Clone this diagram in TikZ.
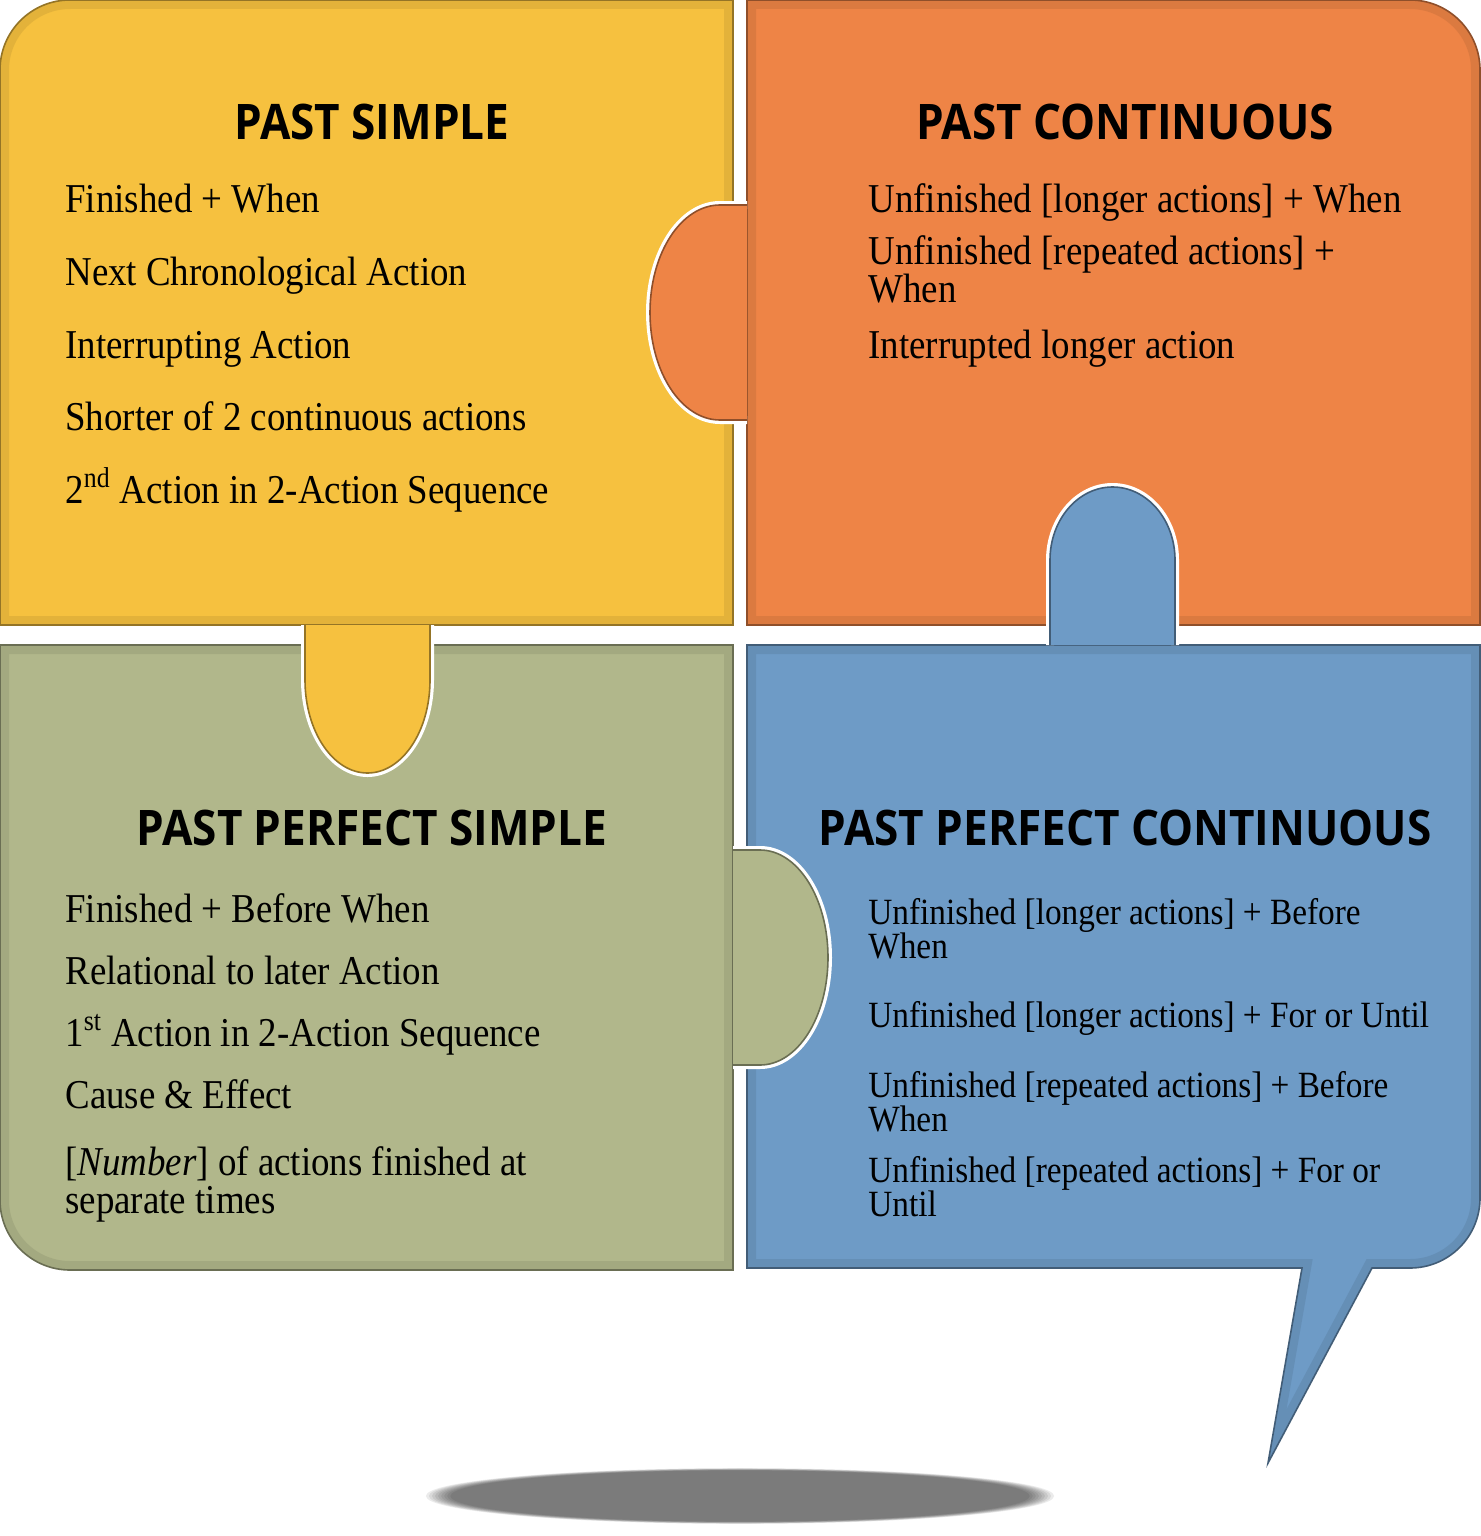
\documentclass[tikz,border=0pt]{standalone}
\usepackage{fontspec}
\setmainfont{Liberation Serif}[FakeStretch=0.9]
\newfontfamily\headfont{Open Sans}[FakeStretch=0.9]
\usetikzlibrary{positioning}
\definecolor{simpleyellow}{HTML}{F6C13F}
\definecolor{contorange}{HTML}{EE8446}
\definecolor{perfgreen}{HTML}{B1B78B}
\definecolor{perfblue}{HTML}{6E9BC6}
\tikzset{
    bevel/.style={draw=#1!75!black, line width=9pt, opacity=0.3},
    rim/.style={draw=#1!60!black, line width=0.8pt},
    tabrim/.style={draw=white, line width=4pt},
    headtext/.style={font=\headfont\bfseries\fontsize{24.5}{28}\selectfont, inner sep=0pt, anchor=base},
    itemtext/.style={font=\fontsize{20.5}{19}\selectfont, inner sep=0pt, anchor=base west, align=left},
    smallitem/.style={itemtext, font=\fontsize{18.5}{17}\selectfont}
}

\begin{document}
\begin{tikzpicture}[x=0.5pt, y=-0.5pt]
    \useasboundingbox (0,0) rectangle (1480,1536);
    % shadow under the puzzle
    \foreach \s in {1.03,1.02,...,0.95}
        \fill[black, opacity=0.08] (740,1496) ellipse [x radius=305*\s, y radius=27*\s];
    % the four pieces
    \foreach \col/\shape in {
        simpleyellow/{(0,625) -- (0,70) .. controls (0,31.3) and (31.3,0) .. (70,0) -- (733,0) -- (733,625) -- cycle},
        contorange/{(747,0) -- (1410,0) .. controls (1448.7,0) and (1480,31.3) .. (1480,70) -- (1480,625) -- (747,625) -- cycle},
        perfgreen/{(0,645) -- (733,645) -- (733,1270) -- (70,1270) .. controls (31.3,1270) and (0,1238.7) .. (0,1200) -- cycle},
        perfblue/{(747,645) -- (1480,645) -- (1480,1198) .. controls (1480,1236.7) and (1448.7,1268) .. (1410,1268) -- (1372,1268) -- (1268,1463) -- (1302,1268) -- (747,1268) -- cycle}} {
        \fill[\col] \shape;
        \begin{scope}
            \clip \shape;
            \draw[bevel=\col] \shape;
        \end{scope}
        \draw[rim=\col] \shape;
    }
    % tabs
    \foreach \col/\curve in {
        contorange/{(747,205) -- (720,205) .. controls (681.3,205) and (650,253.1) .. (650,312.5) .. controls (650,371.9) and (681.3,420) .. (720,420) -- (747,420)},
        perfgreen/{(733,850) -- (760,850) .. controls (797.6,850) and (828,898.1) .. (828,957.5) .. controls (828,1016.9) and (797.6,1065) .. (760,1065) -- (733,1065)},
        simpleyellow/{(305,625) -- (305,680) .. controls (305,731.4) and (333,773) .. (367.5,773) .. controls (402,773) and (430,731.4) .. (430,680) -- (430,625)},
        perfblue/{(1050,645) -- (1050,560) .. controls (1050,519.7) and (1078,487) .. (1112.5,487) .. controls (1147,487) and (1175,519.7) .. (1175,560) -- (1175,645)}} {
        \draw[tabrim] \curve;
        \fill[\col] \curve -- cycle;
        \draw[rim=\col] \curve;
    }

    \node[headtext] (simple) at (372,140) {PAST SIMPLE};
    \node[itemtext] (simple1) at (65,213) {Finished + When};
    \node[itemtext] (simple2) at (65,285) {Next Chronological Action};
    \node[itemtext] (simple3) at (65,358) {Interrupting Action};
    \node[itemtext] (simple4) at (65,430) {Shorter of 2 continuous actions};
    \node[itemtext] (simple5) at (65,503) {2\textsuperscript{nd} Action in 2-Action Sequence};

    \node[headtext] (cont) at (1125,140) {PAST CONTINUOUS};
    \node[itemtext] (cont1) at (868,213) {Unfinished [longer actions] + When};
    \node[itemtext] (cont2) at (868,302) {Unfinished [repeated actions] +\\When};
    \node[itemtext] (cont3) at (868,358) {Interrupted longer action};

    \node[headtext] (perf) at (372,845) {PAST PERFECT SIMPLE};
    \node[itemtext] (perf1) at (65,922) {Finished + Before When};
    \node[itemtext] (perf2) at (65,984) {Relational to later Action};
    \node[itemtext] (perf3) at (65,1046) {1\textsuperscript{st} Action in 2-Action Sequence};
    \node[itemtext] (perf4) at (65,1108) {Cause \& Effect};
    \node[itemtext] (perf5) at (65,1213) {[\textit{Number}] of actions finished at\\separate times};

    \node[headtext] (perfcont) at (1125,845) {PAST PERFECT CONTINUOUS};
    \node[smallitem] (perfcont1) at (868,958) {Unfinished [longer actions] + Before\\When};
    \node[smallitem] (perfcont2) at (868,1027) {Unfinished [longer actions] + For or Until};
    \node[smallitem] (perfcont3) at (868,1131) {Unfinished [repeated actions] + Before\\When};
    \node[smallitem] (perfcont4) at (868,1216) {Unfinished [repeated actions] + For or\\Until};
\end{tikzpicture}
\end{document}
